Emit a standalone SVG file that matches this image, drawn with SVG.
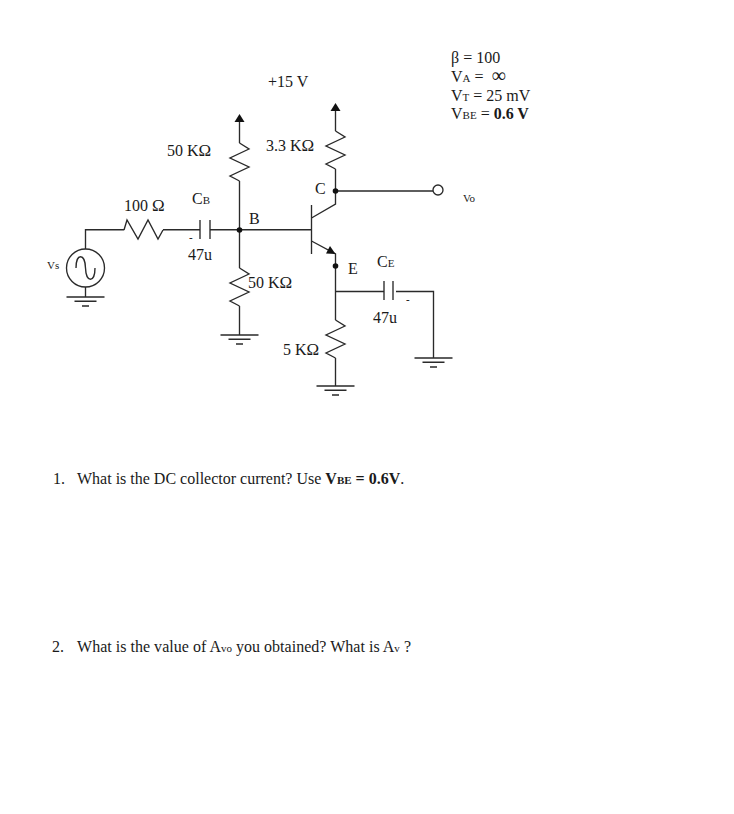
<svg xmlns="http://www.w3.org/2000/svg" width="734" height="814" viewBox="0 0 734 814">
<style>
text{font-family:"Liberation Serif","Times New Roman",serif;font-size:16px;fill:#1a1a1a}
.s{font-size:11px}
.b{font-weight:bold}
.o{font-size:17px}
.w{fill:none;stroke:#2a2a2a;stroke-width:1.35}
.d{fill:#111}
</style>
<defs>
<g id="gnd"><path class="w" d="M-19 0H19M-11 4.200H11M-3.500 9H3.500"/></g>
<path id="rv" class="w" d="M0 0L9.500 6L-9.500 15L9.500 24L-9.500 33L0 38"/>
</defs>
<rect width="734" height="814" fill="#fff"/>
<g id="connectors">
<path class="w" d="M85.500 249V229.700H124M163 229.700H200M210 229.700H311.500M85.500 287V297"/>
<path class="w" d="M239.500 120V143M239.500 181V268M239.500 306V335"/>
<path class="w" d="M335.500 110V131M335.500 169V204L311.500 218M335.500 191H433"/>
<path class="w" d="M311.500 241L335.500 254V320M335.500 358V386M335.500 291.500H384M396 291.500H433.500V358"/>
</g>
<g id="source"><circle class="w" cx="85.500" cy="268" r="19"/><path class="w" d="M76 268C76 253 85 253 85.500 268C86 283 95 283 95 268"/><use href="#gnd" x="85.500" y="297"/></g>
<g id="r100"><path class="w" d="M124 230L127 220L138 239L148 220L158 239L163 230"/></g>
<g id="cb"><path class="w" d="M200 220V239M210 220V239"/></g>
<g id="r50top"><use href="#rv" x="239.500" y="143"/><path class="d" d="M239.500 114L234.500 122H244.500Z"/></g>
<g id="r50bot"><use href="#rv" x="239.500" y="268"/><use href="#gnd" x="239.500" y="335"/></g>
<g id="r33"><use href="#rv" x="335.500" y="131"/><path class="d" d="M335.500 103L330.500 111H340.500Z"/></g>
<g id="transistor"><path class="w" d="M311.500 205V254"/><path class="d" d="M335.500 254L326 253.500L330 246Z"/></g>
<g id="re"><use href="#rv" x="335.500" y="320"/><use href="#gnd" x="335.500" y="386"/></g>
<g id="ce"><path class="w" d="M384 281V300M393 281V300"/><use href="#gnd" x="433.500" y="358"/></g>
<g id="dots"><circle class="d" cx="239.500" cy="230" r="2.800"/><circle class="d" cx="335.500" cy="191" r="2.800"/><circle class="d" cx="335.500" cy="266" r="2.800"/></g>
<g id="vo"><circle cx="438" cy="190" r="5" fill="#fff" stroke="#2a2a2a" stroke-width="1.350"/></g>
<g id="labels">
<text x="268" y="87">+15 V</text>
<text x="167" y="156">50 K<tspan class="o">Ω</tspan></text>
<text x="266" y="151">3.3 K<tspan class="o">Ω</tspan></text>
<text x="124" y="211">100 <tspan class="o">Ω</tspan></text>
<text x="192" y="204">C<tspan class="s">B</tspan></text>
<text x="315" y="194">C</text>
<text x="249" y="224">B</text>
<text x="188" y="260">47u</text>
<text x="189" y="241" class="s b">-</text>
<text x="47" y="269" class="s">Vs</text>
<text x="348" y="274">E</text>
<text x="377" y="267">C<tspan class="s">E</tspan></text>
<text x="248" y="288">50 K<tspan class="o">Ω</tspan></text>
<text x="373" y="323">47u</text>
<text x="406" y="303" class="s b">-</text>
<text x="283" y="355">5 K<tspan class="o">Ω</tspan></text>
<text x="463" y="202" class="s">Vo</text>
<text x="451" y="63">β = 100</text>
<text x="451" y="82">V<tspan class="s">A</tspan> = <tspan dx="4" font-size="20">∞</tspan></text>
<text x="451" y="101">V<tspan class="s">T</tspan> = 25 mV</text>
<text x="451" y="119">V<tspan class="s">BE</tspan> = <tspan class="b">0.6 V</tspan></text>
<text x="53" y="484">1.</text>
<text x="77" y="484">What is the DC collector current? Use <tspan class="b">V<tspan class="s">BE</tspan> = 0.6V</tspan>.</text>
<text x="52" y="652">2.</text>
<text x="77" y="652" textLength="334" lengthAdjust="spacing">What is the value of A<tspan class="s">vo</tspan> you obtained? What is A<tspan class="s">v</tspan> ?</text>
</g>
</svg>
